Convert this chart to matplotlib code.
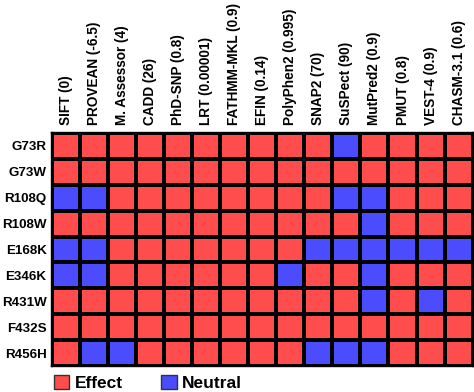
import numpy as np
import matplotlib.pyplot as plt
from matplotlib.colors import ListedColormap
from matplotlib.patches import Patch

plt.rcParams['font.family'] = ['Liberation Sans', 'DejaVu Sans']

tools = ['SIFT (0)', 'PROVEAN (-6.5)', 'M. Assessor (4)', 'CADD (26)',
         'PhD-SNP (0.8)', 'LRT (0.00001)', 'FATHMM-MKL (0.9)', 'EFIN (0.14)',
         'PolyPhen2 (0.995)', 'SNAP2 (70)', 'SuSPect (90)', 'MutPred2 (0.9)',
         'PMUT (0.8)', 'VEST-4 (0.9)', 'CHASM-3.1 (0.6)']
variants = ['G73R', 'G73W', 'R108Q', 'R108W', 'E168K', 'E346K',
            'R431W', 'F432S', 'R456H']

# 0 = Effect, 1 = Neutral
calls = np.array([
    [0, 0, 0, 0, 0, 0, 0, 0, 0, 0, 1, 0, 0, 0, 0],
    [0, 0, 0, 0, 0, 0, 0, 0, 0, 0, 0, 0, 0, 0, 0],
    [1, 1, 0, 0, 0, 0, 0, 0, 0, 0, 1, 1, 0, 0, 0],
    [0, 0, 0, 0, 0, 0, 0, 0, 0, 0, 0, 1, 0, 0, 0],
    [1, 1, 0, 0, 0, 0, 0, 0, 0, 1, 1, 1, 1, 1, 1],
    [1, 1, 0, 0, 0, 0, 0, 0, 1, 0, 0, 1, 0, 0, 0],
    [0, 0, 0, 0, 0, 0, 0, 0, 0, 0, 0, 1, 0, 1, 0],
    [0, 0, 0, 0, 0, 0, 0, 0, 0, 0, 0, 0, 0, 0, 0],
    [0, 1, 1, 0, 0, 0, 0, 0, 0, 1, 1, 1, 0, 0, 0],
])

red = '#ff4c4c'
blue = '#4c4cff'

fig = plt.figure(figsize=(4.74, 3.92), dpi=100)
ax = fig.add_axes([0.11, 0.066, 0.887, 0.595])

ax.pcolormesh(calls, cmap=ListedColormap([red, blue]), vmin=0, vmax=1,
              edgecolors='black', linewidth=1.7)
ax.set_xlim(0, len(tools))
ax.set_ylim(len(variants), 0)

ax.xaxis.tick_top()
ax.set_xticks(np.arange(len(tools)) + 0.5)
ax.set_xticklabels(tools, rotation=90, fontsize=9.8, fontweight='bold')
ax.set_yticks(np.arange(len(variants)) + 0.5)
ax.set_yticklabels(variants, fontsize=9.6, fontweight='bold')
ax.tick_params(axis='x', length=0, pad=6)
ax.tick_params(axis='y', length=0, pad=4)
for s in ax.spines.values():
    s.set_linewidth(1.7)

handles = [Patch(facecolor=red, edgecolor='#333333', label='Effect'),
           Patch(facecolor=blue, edgecolor='#333333', label='Neutral')]
fig.legend(handles=handles, loc='lower left', bbox_to_anchor=(53 / 474, 0.0),
           ncol=2, frameon=False, borderpad=0.05, borderaxespad=0,
           prop={'weight': 'bold', 'size': 12.5},
           handlelength=0.9, handleheight=0.9, handletextpad=0.3,
           columnspacing=2.2)

fig.savefig('out.png', dpi=100)
